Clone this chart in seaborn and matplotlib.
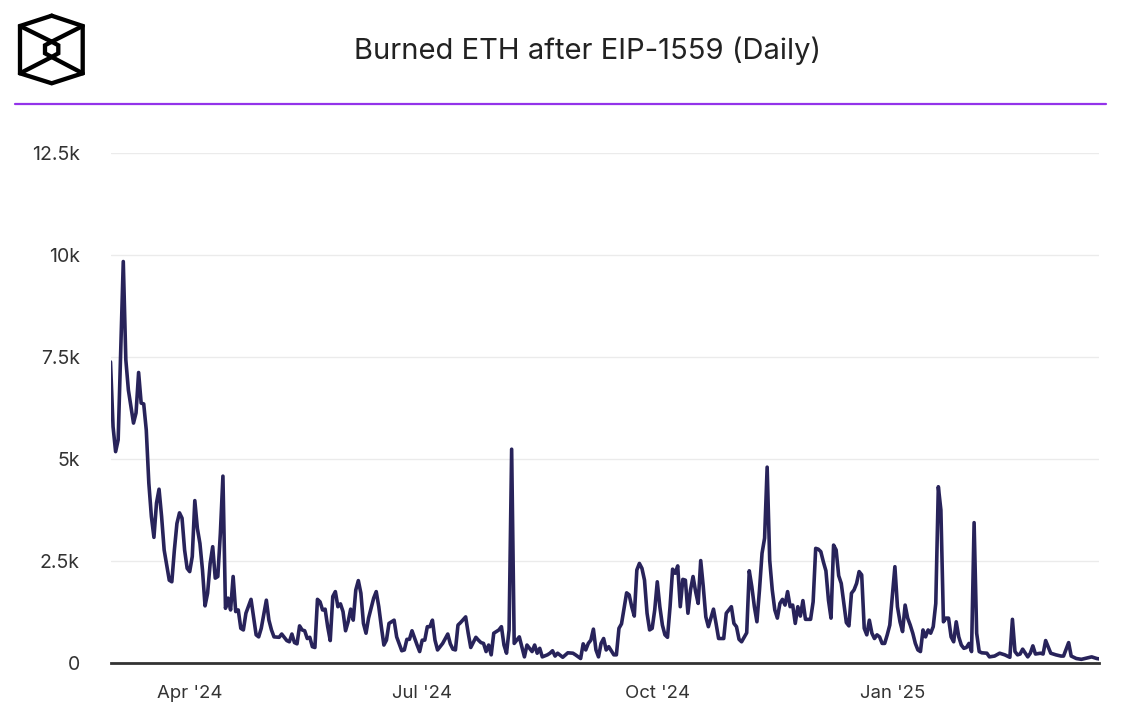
import matplotlib
matplotlib.use("Agg")
import matplotlib.pyplot as plt
import seaborn as sns
import pandas as pd

# daily ETH burn (days counted from start_date)
start_date = "2024-03-01"
day_offset = [
    0, 1, 2, 3, 5, 6, 7, 9, 10, 11, 12, 13, 14, 15, 16, 17, 18, 19, 20, 21,
    23, 24, 25, 26, 27, 28, 29, 30, 31, 32, 33, 34, 35, 36, 37, 38, 39, 40, 41, 42,
    43, 44, 45, 46, 47, 48, 49, 50, 51, 52, 53, 55, 56, 57, 58, 59, 61, 62, 63, 64,
    66, 67, 69, 70, 71, 72, 73, 74, 75, 76, 77, 78, 79, 80, 81, 82, 83, 84, 85, 86,
    87, 88, 89, 90, 91, 92, 93, 94, 95, 96, 97, 98, 99, 100, 101, 103, 104, 105, 106, 107,
    108, 109, 110, 111, 112, 114, 115, 116, 117, 118, 120, 121, 122, 123, 124, 125, 126, 127, 128, 129,
    130, 132, 133, 134, 135, 136, 137, 139, 140, 141, 143, 144, 145, 146, 147, 148, 149, 150, 152, 153,
    154, 155, 156, 157, 158, 160, 161, 162, 163, 165, 166, 167, 168, 169, 171, 172, 173, 174, 175, 177,
    179, 181, 182, 184, 185, 186, 187, 188, 189, 190, 191, 192, 193, 194, 195, 197, 198, 199, 200, 202,
    203, 204, 205, 206, 207, 208, 209, 210, 211, 212, 213, 214, 215, 216, 217, 218, 219, 220, 221, 222,
    223, 224, 225, 226, 227, 228, 229, 230, 231, 232, 233, 234, 236, 237, 238, 240, 241, 243, 244, 245,
    246, 247, 249, 250, 251, 252, 253, 254, 255, 256, 257, 258, 259, 260, 261, 262, 263, 264, 265, 266,
    267, 268, 269, 270, 271, 272, 273, 274, 275, 276, 277, 278, 279, 280, 281, 282, 283, 284, 285, 286,
    287, 288, 289, 290, 291, 292, 293, 294, 295, 296, 297, 298, 299, 300, 301, 302, 303, 304, 305, 306,
    307, 308, 309, 310, 311, 312, 313, 314, 315, 316, 317, 318, 319, 320, 321, 322, 323, 324, 325, 326,
    327, 328, 329, 330, 331, 332, 333, 334, 335, 336, 337, 338, 339, 340, 341, 343, 344, 346, 348, 350,
    352, 353, 354, 355, 356, 357, 359, 360, 361, 362, 364, 365, 366, 368, 370, 372, 373, 375, 376, 378,
    380, 384, 386, 387,
]
burned_eth = [
    7380, 5790, 5180, 5470, 9840, 7430, 6690, 5880, 6130, 7120, 6370, 6350, 5710, 4410, 3590, 3080, 3920, 4260, 3590, 2770,
    2030, 1990, 2770, 3420, 3680, 3550, 2770, 2320, 2240, 2610, 3980, 3300, 2930, 2280, 1400, 1710, 2440, 2850, 2080, 2120,
    3180, 4580, 1340, 1590, 1300, 2120, 1260, 1300, 850, 810, 1220, 1560, 1130, 690, 640, 850, 1540, 1050, 810, 640,
    630, 710, 550, 520, 710, 500, 470, 910, 810, 790, 600, 630, 400, 380, 1560, 1500, 1300, 1320, 890, 550,
    1630, 1750, 1380, 1450, 1260, 790, 1010, 1320, 1050, 1790, 2020, 1710, 970, 730, 1100, 1590, 1750, 1380, 890, 440,
    560, 970, 1010, 1050, 640, 300, 320, 580, 580, 790, 440, 280, 560, 560, 890, 890, 1050, 560, 320, 400,
    480, 710, 470, 340, 320, 930, 990, 1130, 730, 380, 630, 560, 500, 480, 280, 440, 200, 730, 810, 890,
    440, 240, 810, 5240, 480, 640, 400, 150, 440, 280, 440, 240, 360, 150, 200, 240, 300, 170, 240, 140,
    250, 240, 200, 110, 470, 320, 480, 560, 830, 320, 150, 480, 600, 320, 400, 200, 200, 850, 960, 1720,
    1670, 1380, 1150, 2280, 2440, 2320, 2030, 1220, 810, 850, 1300, 1990, 1380, 930, 690, 630, 1380, 2300, 2200, 2380,
    1380, 2050, 2030, 1220, 1790, 2120, 1750, 1460, 2510, 1870, 1130, 890, 1320, 970, 600, 600, 1220, 1380, 970, 890,
    580, 520, 740, 2260, 1870, 1380, 1010, 1790, 2690, 3060, 4800, 2520, 1790, 1300, 1100, 1460, 1560, 1420, 1750, 1380,
    1420, 970, 1380, 1150, 1530, 1070, 1070, 1070, 1500, 2810, 2790, 2730, 2480, 2260, 1540, 1100, 2890, 2770, 2140, 1950,
    1460, 990, 910, 1710, 1790, 1950, 2240, 2160, 850, 690, 1050, 730, 600, 690, 640, 480, 480, 690, 930, 1630,
    2360, 1380, 1010, 770, 1420, 1100, 930, 730, 480, 320, 280, 810, 640, 810, 730, 890, 1460, 4320, 3750, 1010,
    1100, 1100, 640, 520, 1010, 640, 440, 360, 380, 480, 280, 3440, 730, 280, 250, 240, 150, 170, 240, 200,
    140, 1070, 280, 200, 220, 340, 150, 240, 420, 220, 240, 220, 550, 240, 200, 170, 170, 500, 170, 110,
    90, 150, 110, 100,
]

tick_dates = ["2024-04-01", "2024-07-01", "2024-10-01", "2025-01-01"]
tick_labels = ["Apr '24", "Jul '24", "Oct '24", "Jan '25"]
y_ticks = [0, 2500, 5000, 7500, 10000, 12500]
y_labels = ["0", "2.5k", "5k", "7.5k", "10k", "12.5k"]

df = pd.DataFrame({
    "date": pd.to_datetime(start_date) + pd.to_timedelta(day_offset, unit="D"),
    "burned": burned_eth,
})

sns.set_theme(style="white")
plt.rcParams["font.family"] = ["Inter", "DejaVu Sans"]

W, H = 1122, 716
fig = plt.figure(figsize=(W / 100, H / 100), dpi=100)
ax = fig.add_axes([110.5 / W, 1 - 663 / H, (1099.3 - 110.5) / W, (663 - 153) / H])

sns.lineplot(data=df, x="date", y="burned", ax=ax, color="#28235a", lw=2.6)

ax.set_xlim(df["date"].iloc[0], df["date"].iloc[-1])
ax.set_ylim(0, 12500)
ax.set_yticks(y_ticks)
ax.set_yticklabels(y_labels)
ax.set_xticks(pd.to_datetime(tick_dates))
ax.set_xticklabels(tick_labels)
ax.set_xlabel("")
ax.set_ylabel("")
ax.yaxis.grid(True, color="#ebebeb", lw=1)
ax.xaxis.grid(False)
for s in ["left", "right", "top"]:
    ax.spines[s].set_visible(False)
ax.spines["bottom"].set_color("#333333")
ax.spines["bottom"].set_linewidth(2)
ax.tick_params(axis="y", length=0, pad=22, labelsize=14, labelcolor="#333333")
ax.tick_params(axis="x", length=0, pad=16, labelsize=13.4, labelcolor="#333333")

# header: logo, title, purple rule
deco = fig.add_axes([0, 0, 1, 1], zorder=-1)
deco.set_xlim(0, W)
deco.set_ylim(H, 0)
deco.axis("off")
deco.plot([15, 1106], [103.5, 103.5], color="#9333ea", lw=1.6)
logo_kw = dict(color="black", lw=3.1, solid_joinstyle="miter")
deco.plot([51.7, 82.7, 82.7, 51.7, 20, 20, 51.7], [15.7, 26, 73.3, 83.3, 73.3, 26, 15.7], **logo_kw)
deco.plot([20, 51.7, 82.7], [26, 41.7, 26], **logo_kw)
deco.plot([20, 51.7, 82.7], [73.3, 57, 73.3], **logo_kw)
deco.plot([51.7, 58.3, 58.3, 51.7, 45, 45, 51.7], [41.7, 45.3, 53.3, 57, 53.3, 45.3, 41.7], **logo_kw)

fig.text(588 / W, 1 - 51 / H, "Burned ETH after EIP-1559 (Daily)", ha="center", va="center",
         fontsize=21, color="#222222")

fig.savefig("out.png", dpi=100)
